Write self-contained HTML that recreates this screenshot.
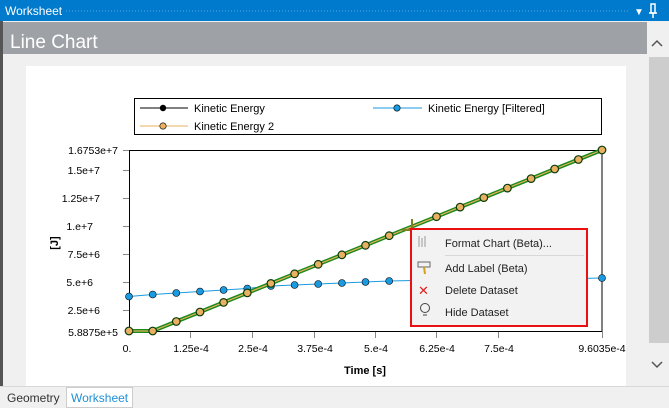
<!DOCTYPE html><html><head><style>
body{margin:0;width:669px;height:408px;overflow:hidden;font-family:"Liberation Sans",sans-serif;background:#fff}
</style></head><body>
<svg width="669" height="408" xmlns="http://www.w3.org/2000/svg" font-family="Liberation Sans, sans-serif">
<rect width="669" height="408" fill="#f0f0f0"/>
<rect x="0" y="0" width="669" height="21" fill="#007acc"/>
<text x="5" y="15" font-size="12" fill="#fff">Worksheet</text>
<line x1="66" y1="11" x2="630" y2="11" stroke="#5aa8e0" stroke-dasharray="1,2"/>
<text x="634" y="15" font-size="10" fill="#fff">▼</text>
<rect x="651" y="4" width="4" height="9" fill="none" stroke="#fff" stroke-width="1.5"/>
<line x1="649" y1="13" x2="657" y2="13" stroke="#fff" stroke-width="1.5"/>
<line x1="653" y1="13" x2="653" y2="18" stroke="#fff" stroke-width="1.5"/>
<rect x="0" y="21" width="3" height="366" fill="#555"/>
<rect x="3" y="22" width="644" height="32" fill="#9ea2a6"/>
<text x="10" y="48" font-size="19" fill="#fff">Line Chart</text>
<rect x="649" y="57" width="20" height="286" fill="#cdcdcd"/>
<path d="M652 46 L657 41 L662 46" fill="none" stroke="#555" stroke-width="1.5"/>
<path d="M652 362 L657 367 L662 362" fill="none" stroke="#555" stroke-width="1.5"/>
<rect x="26" y="66" width="600" height="320" fill="#fff"/>
<rect x="0" y="386" width="669" height="22" fill="#f0f0f0"/>
<line x1="0" y1="386.5" x2="669" y2="386.5" stroke="#d8d8d8"/>
<rect x="66.5" y="387.5" width="66" height="20" fill="#fff" stroke="#ccc"/>
<text x="7" y="402" font-size="12" fill="#333">Geometry</text>
<text x="71" y="402" font-size="12" fill="#1e90d6">Worksheet</text>
<!-- legend -->
<rect x="134.5" y="98.5" width="467" height="36" fill="#fff" stroke="#000"/>
<line x1="140" y1="108" x2="188" y2="108" stroke="#000"/><circle cx="163" cy="108" r="3.2" fill="#000"/>
<text x="194" y="112" font-size="11">Kinetic Energy</text>
<line x1="373" y1="108" x2="422" y2="108" stroke="#1a9ae0"/><circle cx="397" cy="108" r="3.2" fill="#1a9ae0" stroke="#000" stroke-width=".6"/>
<text x="428" y="112" font-size="11">Kinetic Energy [Filtered]</text>
<line x1="140" y1="126" x2="188" y2="126" stroke="#e8b060"/><circle cx="163" cy="126" r="3.2" fill="#e8b060" stroke="#000" stroke-width=".6"/>
<text x="194" y="130" font-size="11">Kinetic Energy 2</text>
<!-- axes -->
<rect x="129.5" y="150.5" width="472.5" height="181" fill="none" stroke="#000"/>
<g stroke="#888">
<line x1="123" y1="150.5" x2="129" y2="150.5"/><line x1="123" y1="170.5" x2="129" y2="170.5"/><line x1="123" y1="198.5" x2="129" y2="198.5"/><line x1="123" y1="226.5" x2="129" y2="226.5"/><line x1="123" y1="254.5" x2="129" y2="254.5"/><line x1="123" y1="282.5" x2="129" y2="282.5"/><line x1="123" y1="310.5" x2="129" y2="310.5"/>
<line x1="190.5" y1="332" x2="190.5" y2="338"/><line x1="252.5" y1="332" x2="252.5" y2="338"/><line x1="314.5" y1="332" x2="314.5" y2="338"/><line x1="375.5" y1="332" x2="375.5" y2="338"/><line x1="436.5" y1="332" x2="436.5" y2="338"/><line x1="498.5" y1="332" x2="498.5" y2="338"/><line x1="602.5" y1="332" x2="602.5" y2="338"/>
</g>
<g font-size="10.5" text-anchor="end">
<text x="118" y="154">1.6753e+7</text><text x="100" y="174">1.5e+7</text><text x="100" y="202">1.25e+7</text><text x="93" y="230">1.e+7</text><text x="100" y="258">7.5e+6</text><text x="93" y="286">5.e+6</text><text x="100" y="314">2.5e+6</text><text x="118" y="336">5.8875e+5</text>
</g>
<g font-size="10.5" text-anchor="middle">
<text x="127" y="352">0.</text><text x="191" y="352">1.25e-4</text><text x="253" y="352">2.5e-4</text><text x="315" y="352">3.75e-4</text><text x="376" y="352">5.e-4</text><text x="437" y="352">6.25e-4</text><text x="499" y="352">7.5e-4</text><text x="602" y="352">9.6035e-4</text>
</g>
<text x="365" y="374" font-size="11" font-weight="bold" text-anchor="middle">Time [s]</text>
<text x="58" y="243" font-size="11" font-weight="bold" transform="rotate(-90 58 243)" text-anchor="middle">[J]</text>
<!-- blue -->
<polyline fill="none" stroke="#1a9ae0" points="129,296.5 152.7,294.5 176.3,293 200,291.5 223.6,290 247.3,288.5 270.9,286 294.6,285 318.2,284 341.9,283 365.5,282 389.2,281 412.8,280.5 436.5,280 460.1,279.8 483.8,279.5 507.4,279.2 531.1,279 554.7,278.8 578.4,278.5 602,278"/>
<g fill="#1a9ae0" stroke="#000" stroke-width=".6">
<circle cx="129" cy="296.5" r="3.5"/><circle cx="152.7" cy="294.5" r="3.5"/><circle cx="176.3" cy="293" r="3.5"/><circle cx="200" cy="291.5" r="3.5"/><circle cx="223.6" cy="290" r="3.5"/><circle cx="247.3" cy="288.5" r="3.5"/><circle cx="270.9" cy="286" r="3.5"/><circle cx="294.6" cy="285" r="3.5"/><circle cx="318.2" cy="284" r="3.5"/><circle cx="341.9" cy="283" r="3.5"/><circle cx="365.5" cy="282" r="3.5"/><circle cx="389.2" cy="281" r="3.5"/><circle cx="602" cy="278" r="3.5"/>
</g>
<!-- orange/green -->
<polyline fill="none" stroke="#1a8a1a" stroke-width="4" points="129,331 152.7,331 176.3,321.5 200,312 223.6,302.4 247.3,292.9 270.9,283.4 294.6,273.8 318.2,264.3 341.9,254.8 365.5,245.3 389.2,235.7 412.8,226.2 436.5,216.7 460.1,207.1 483.8,197.6 507.4,188.1 531.1,178.6 554.7,169 578.4,159.5 602,150"/>
<polyline fill="none" stroke="#e8b060" stroke-width="1.2" points="129,331 152.7,331 176.3,321.5 200,312 223.6,302.4 247.3,292.9 270.9,283.4 294.6,273.8 318.2,264.3 341.9,254.8 365.5,245.3 389.2,235.7 412.8,226.2 436.5,216.7 460.1,207.1 483.8,197.6 507.4,188.1 531.1,178.6 554.7,169 578.4,159.5 602,150"/>
<g fill="#e8b060" stroke="#0a3a0a" stroke-width="1.2">
<circle cx="129" cy="331" r="3.8"/><circle cx="152.7" cy="331" r="3.8"/><circle cx="176.3" cy="321.5" r="3.8"/><circle cx="200" cy="312" r="3.8"/><circle cx="223.6" cy="302.4" r="3.8"/><circle cx="247.3" cy="292.9" r="3.8"/><circle cx="270.9" cy="283.4" r="3.8"/><circle cx="294.6" cy="273.8" r="3.8"/><circle cx="318.2" cy="264.3" r="3.8"/><circle cx="341.9" cy="254.8" r="3.8"/><circle cx="365.5" cy="245.3" r="3.8"/><circle cx="389.2" cy="235.7" r="3.8"/><circle cx="436.5" cy="216.7" r="3.8"/><circle cx="460.1" cy="207.1" r="3.8"/><circle cx="483.8" cy="197.6" r="3.8"/><circle cx="507.4" cy="188.1" r="3.8"/><circle cx="531.1" cy="178.6" r="3.8"/><circle cx="554.7" cy="169" r="3.8"/><circle cx="578.4" cy="159.5" r="3.8"/><circle cx="602" cy="150" r="3.8"/>
</g>
<line x1="412" y1="219" x2="412" y2="232" stroke="#808020" stroke-width="2"/>
<line x1="402" y1="230" x2="414" y2="230" stroke="#808020" stroke-width="2"/>
<!-- context menu -->
<rect x="411" y="229" width="176" height="97" fill="#f2f2f2" stroke="#e81010" stroke-width="2"/>
<line x1="445" y1="255.5" x2="584" y2="255.5" stroke="#d8d8d8"/>
<g font-size="11" fill="#222">
<text x="445" y="247">Format Chart (Beta)...</text>
<text x="445" y="272">Add Label (Beta)</text>
<text x="445" y="294">Delete Dataset</text>
<text x="445" y="316">Hide Dataset</text>
</g>
<g stroke="#999" stroke-width="1"><line x1="419" y1="236" x2="419" y2="247"/><line x1="422" y1="238" x2="422" y2="247"/><line x1="425" y1="236" x2="425" y2="247"/></g>
<rect x="418" y="262" width="12" height="5" fill="none" stroke="#666"/>
<line x1="424" y1="267" x2="425" y2="274" stroke="#d4a020" stroke-width="2"/>
<text x="418" y="295" font-size="13" fill="#e02020">✕</text>
<circle cx="425" cy="308" r="4.5" fill="none" stroke="#444"/>
<line x1="423" y1="315" x2="427" y2="315" stroke="#444"/>
</svg>
</body></html>
